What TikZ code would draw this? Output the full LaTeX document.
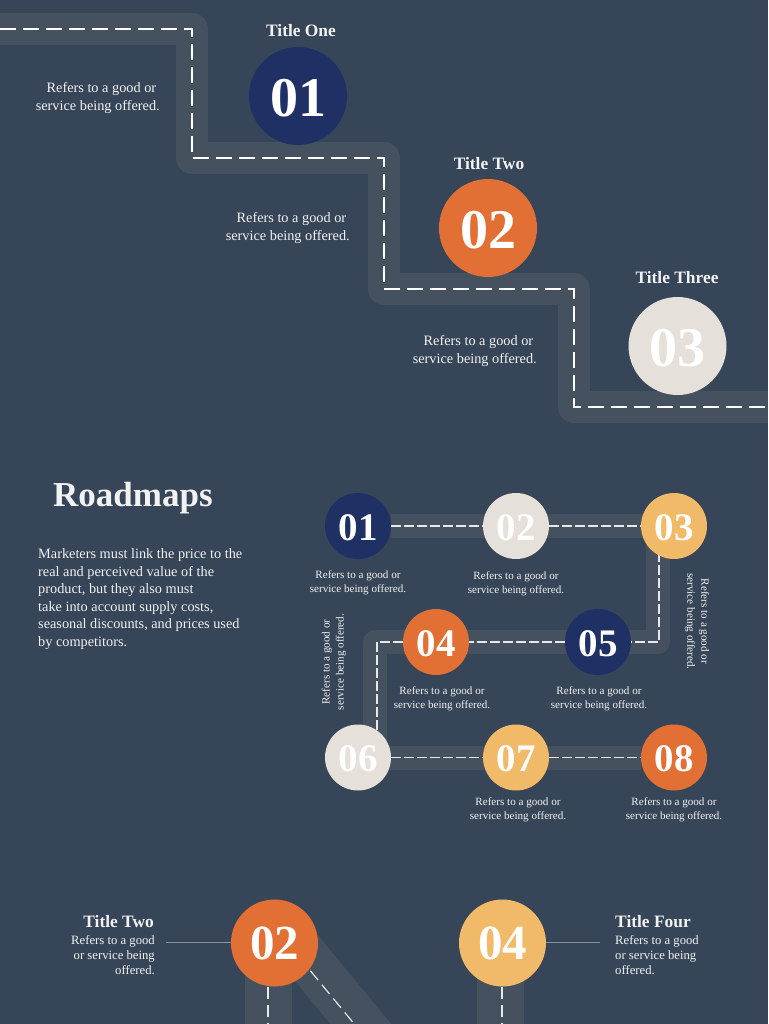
\documentclass[tikz,border=0pt]{standalone}
\usepackage{fontspec}
\setmainfont{Liberation Serif}
\usetikzlibrary{backgrounds}
\definecolor{bgcol}{HTML}{364557}
\definecolor{roadcol}{HTML}{45515F}
\definecolor{navycol}{HTML}{1F3064}
\definecolor{orangecol}{HTML}{E27035}
\definecolor{creamcol}{HTML}{E5E0DA}
\definecolor{yellowcol}{HTML}{F1BA68}
\definecolor{textcol}{HTML}{F2F2F2}
\definecolor{leadcol}{HTML}{8A939D}
\definecolor{thindash}{HTML}{E8E8E8}
\tikzset{
  bigdot/.style={circle,inner sep=0pt,minimum size=98pt,text=white,text height=41pt,font=\fontsize{56}{56}\selectfont\bfseries},
  middot/.style={circle,inner sep=0pt,minimum size=66pt,text=white,text height=28.5pt,font=\fontsize{39}{39}\selectfont\bfseries},
  lowdot/.style={circle,inner sep=0pt,minimum size=87pt,text=white,font=\fontsize{49}{49}\selectfont\bfseries},
  titletext/.style={text=textcol,inner sep=0pt,font=\fontsize{17.4}{20}\selectfont\bfseries},
  bodytext/.style={text=textcol,inner sep=0pt,font=\fontsize{14.3}{17.5}\selectfont},
  sidetext/.style={text=textcol,inner sep=0pt,font=\fontsize{12.7}{15.2}\selectfont},
  smalltext/.style={text=textcol,inner sep=0pt,align=center,font=\fontsize{11.1}{14}\selectfont},
  bigroad/.style={draw=roadcol,line width=32pt,line join=round},
  midroad/.style={draw=roadcol,line width=24pt,line join=round},
  lowroad/.style={draw=roadcol,line width=47pt},
  bigdash/.style={draw=white,line width=2pt,dash pattern=on 16pt off 7pt},
  middash/.style={draw=thindash,line width=1.2pt,dash pattern=on 10pt off 3pt},
  lowdash/.style={draw=thindash,line width=1.2pt,dash pattern=on 12pt off 6pt},
  leadline/.style={draw=leadcol,line width=0.8pt}
}
\begin{document}
\begin{tikzpicture}[x=1pt,y=-1pt]
\useasboundingbox (0,0) rectangle (768,1024);
\clip (0,0) rectangle (768,1024);

% top stairs
\node[bigdot,fill=navycol] (topa) at (298,96) {01};
\node[bigdot,fill=orangecol] (topb) at (488,228) {02};
\node[bigdot,fill=creamcol] (topc) at (677.5,346) {03};
\node[titletext] (titlea) at (301,31) {Title One};
\node[titletext] (titleb) at (489,164) {Title Two};
\node[titletext] (titlec) at (677,278) {Title Three};
\node[bodytext,align=right,anchor=east] (texta) at (160,98) {Refers to a good or\phantom{.}\\service being offered.};
\node[bodytext,align=right,anchor=east] (textb) at (350,228) {Refers to a good or\phantom{.}\\service being offered.};
\node[bodytext,align=right,anchor=east] (textc) at (537,351) {Refers to a good or\phantom{.}\\service being offered.};

\coordinate (sa) at (0,29);
\coordinate (sb) at (192,29);
\coordinate (sc) at (192,158);
\coordinate (sd) at (384,158);
\coordinate (se) at (384,289);
\coordinate (sf) at (574,289);
\coordinate (sg) at (574,407);
\coordinate (sh) at (768,407);

% heading
\node[text=textcol,inner sep=0pt,anchor=west,font=\fontsize{35}{35}\selectfont\bfseries] (headline) at (53,498) {Roadmaps};
\node[bodytext,align=left,anchor=north west] (para) at (38,548.5) {Marketers must link the price to the\\real and perceived value of the\\product, but they also must\\take into account supply costs,\\seasonal discounts, and prices used\\by competitors.};

% middle route
\node[middot,fill=navycol] (mida) at (358,526) {01};
\node[middot,fill=creamcol] (midb) at (516,526) {02};
\node[middot,fill=yellowcol] (midc) at (674,526) {03};
\node[middot,fill=orangecol] (midd) at (436,642) {04};
\node[middot,fill=navycol] (mide) at (598,642) {05};
\node[middot,fill=creamcol] (midf) at (358,757.5) {06};
\node[middot,fill=yellowcol] (midg) at (516,757.5) {07};
\node[middot,fill=orangecol] (midh) at (674,757.5) {08};
\node[smalltext] (capa) at (358,582.5) {Refers to a good or\\service being offered.};
\node[smalltext] (capb) at (516,583.5) {Refers to a good or\\service being offered.};
\node[smalltext] (capc) at (697,621.5) [rotate=-90] {Refers to a good or\\service being offered.};
\node[smalltext] (capd) at (442,698.5) {Refers to a good or\\service being offered.};
\node[smalltext] (cape) at (599,698.5) {Refers to a good or\\service being offered.};
\node[smalltext] (capf) at (334,662) [rotate=90] {Refers to a good or\\service being offered.};
\node[smalltext] (capg) at (518,809.5) {Refers to a good or\\service being offered.};
\node[smalltext] (caph) at (674,809.5) {Refers to a good or\\service being offered.};

\coordinate (rbend) at (657.5,642);
\coordinate (lbend) at (375,642);
\coordinate (rdash) at (659,642);
\coordinate (ldash) at (377,642);

% bottom part
\node[lowdot,fill=orangecol] (lowb) at (274.5,943) {02};
\node[lowdot,fill=yellowcol] (lowd) at (502.5,943) {04};
\node[titletext,anchor=east] (titlelb) at (154,922) {Title Two};
\node[titletext,anchor=west] (titleld) at (615,922) {Title Four};
\node[sidetext,align=right,anchor=north east] (textlb) at (155,935) {Refers to a good\\or service being\\offered.};
\node[sidetext,align=left,anchor=north west] (textld) at (615,935) {Refers to a good\\or service being\\offered.};
\coordinate (leadb) at (166,942.5);
\coordinate (leadd) at (600,942.5);
\coordinate (downb) at (268,1040);
\coordinate (downd) at (500,1040);
\coordinate (dashd) at (502,1040);
\coordinate (diagtop) at (294,943);
\coordinate (diagband) at (374,1040);
\coordinate (diagdash) at (367.5,1040);
\coordinate (diagdtop) at (287.5,943);

\begin{scope}[on background layer]
\fill[bgcol] (0,0) rectangle (768,1024);
\draw[bigroad] (sa) -- (sb) -- (sc) -- (sd) -- (se) -- (sf) -- (sg) -- (sh);
\draw[bigdash] (sa) -- (sb) -- (sc) -- (sd) -- (se) -- (sf) -- (sg) -- (sh);

\draw[midroad] (mida) -- (midc |- mida) -- (midb -| rbend) -- (rbend) -- (lbend) -- (lbend |- midf) -- (midh);
\draw[middash] (mida) -- (midb);
\draw[middash] (midb) -- (midc);
\draw[middash] (rdash |- midc) -- (rdash) -- (mide);
\draw[middash] (mide) -- (midd);
\draw[middash] (midd) -- (ldash) -- (ldash |- midf);
\draw[middash] (midf) -- (midg);
\draw[middash] (midg) -- (midh);

\draw[lowroad] (downb |- lowb) -- (downb);
\draw[lowroad] (diagtop) -- (diagband);
\draw[lowroad] (downd |- lowd) -- (downd);
\draw[lowdash] (lowb.south -| downb) -- (downb);
\draw[lowdash] (diagdtop) -- (diagdash);
\draw[lowdash] (lowd.south -| dashd) -- (dashd);
\draw[leadline] (leadb) -- (leadb -| lowb);
\draw[leadline] (leadd) -- (leadd -| lowd);
\end{scope}
\end{tikzpicture}
\end{document}
